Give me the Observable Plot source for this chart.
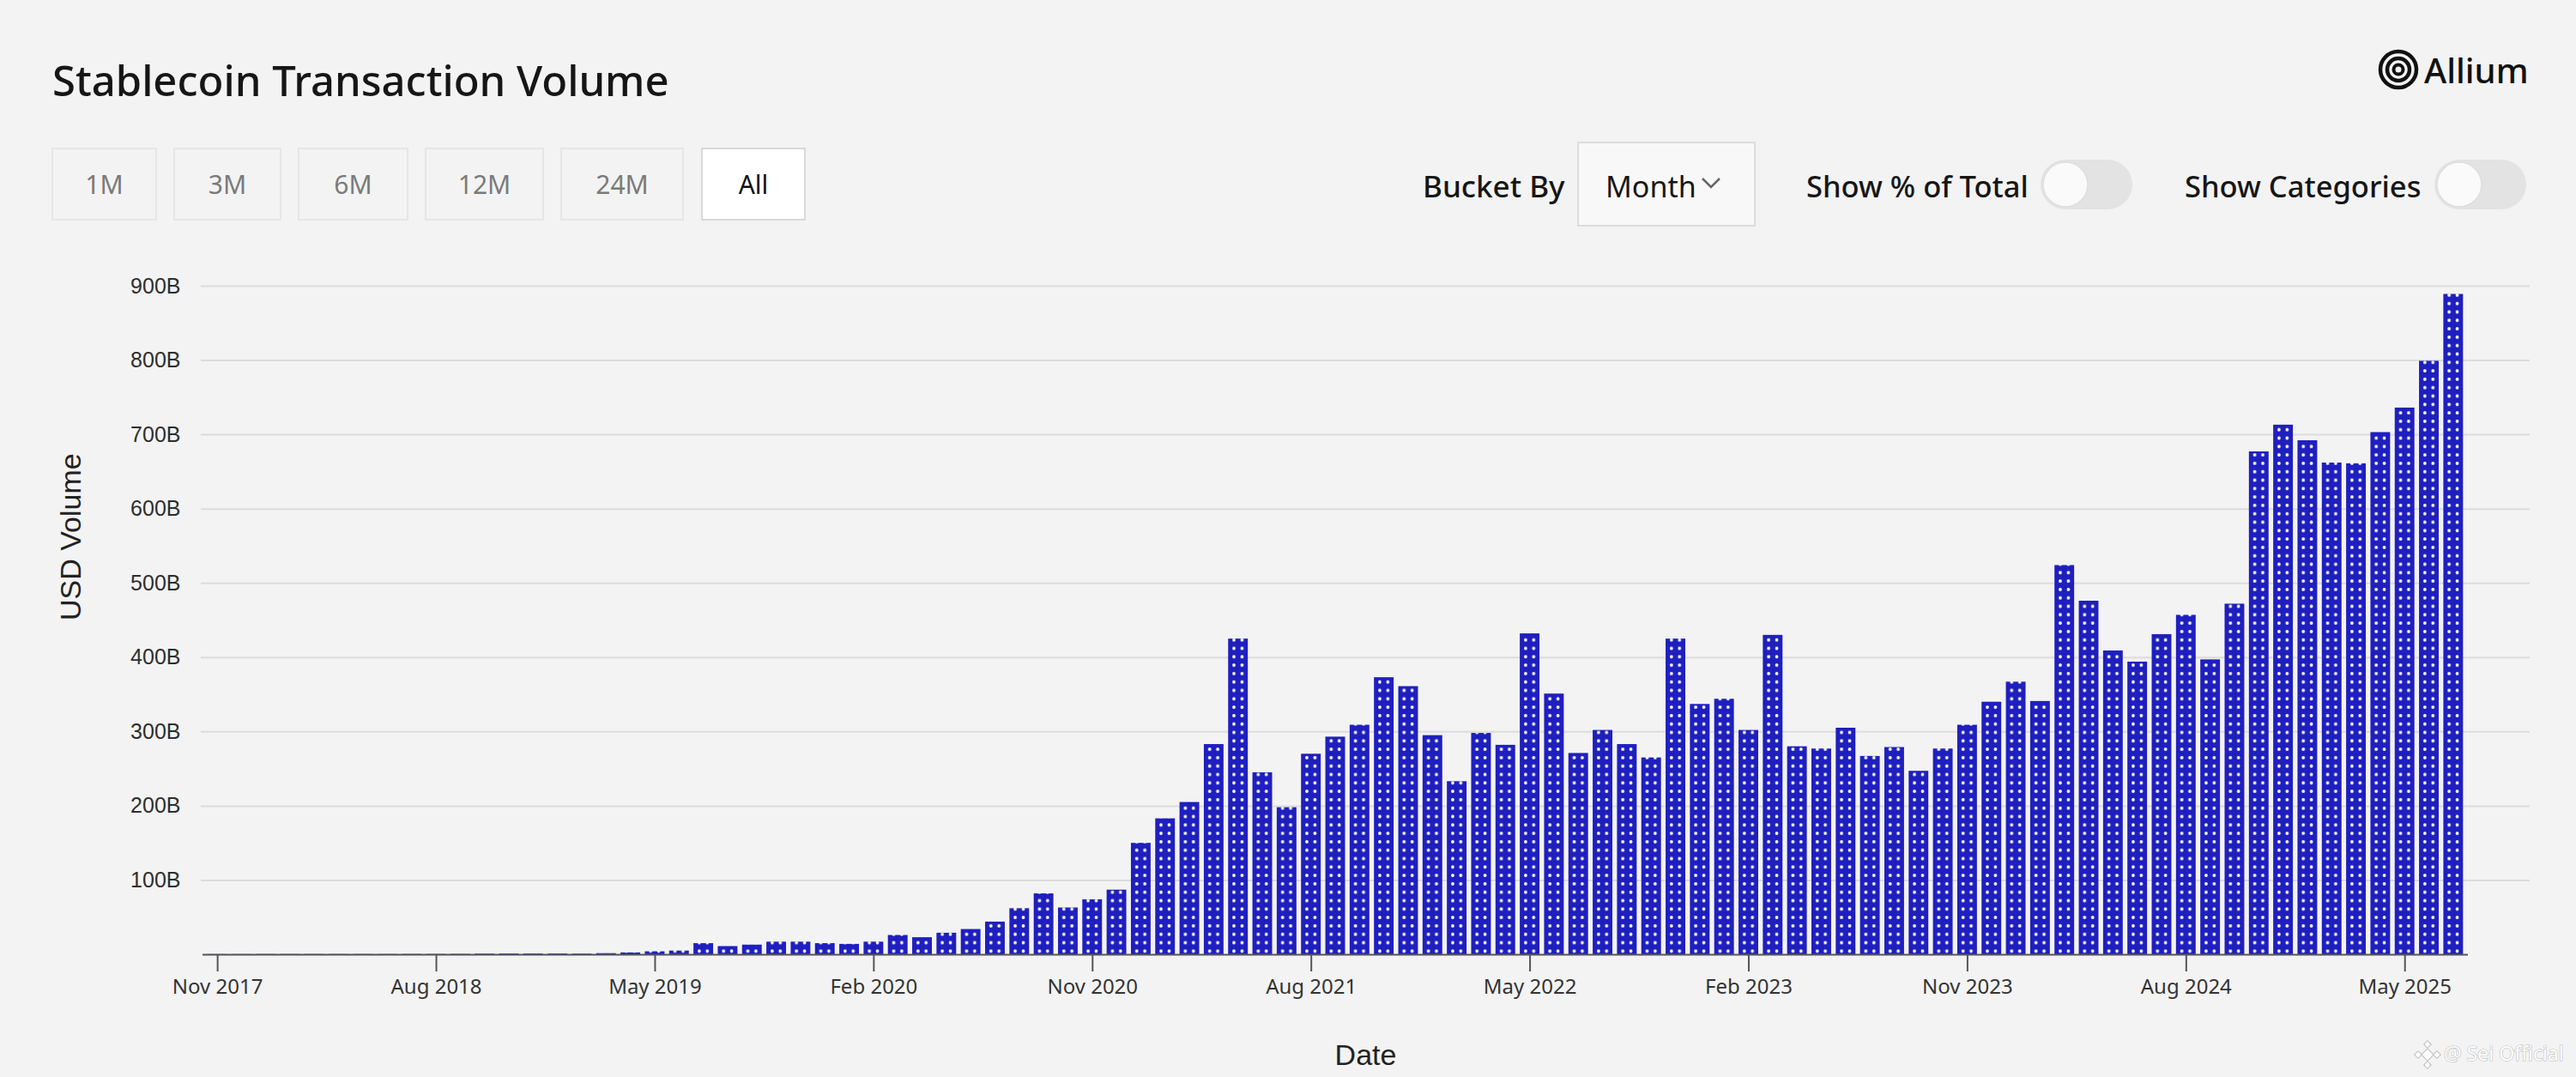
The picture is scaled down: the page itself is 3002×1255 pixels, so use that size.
<!DOCTYPE html>
<html><head><meta charset="utf-8">
<script src="https://cdn.jsdelivr.net/npm/d3@7"></script>
<script src="https://cdn.jsdelivr.net/npm/@observablehq/plot@0.6"></script>
<style>
html,body{margin:0;padding:0;background:#f3f3f3;}
#page{position:relative;width:3002px;height:1255px;overflow:hidden;background:#f3f3f3;}
#chart{position:absolute;left:0;top:290px;}
#overlay{position:absolute;left:0;top:0;pointer-events:none;}
</style></head><body>
<div id="page"><div id="chart"></div><svg id="overlay" width="3002" height="1255" xmlns="http://www.w3.org/2000/svg"></svg></div>
<script>
// ---- data ----
const firstMonth = "2017-11";
const lastMonth = "2025-07";
const months = d3.utcMonth.range(d3.utcParse("%Y-%m")(firstMonth), d3.utcMonth.offset(d3.utcParse("%Y-%m")(lastMonth), 1)).map(d3.utcFormat("%Y-%m"));
// USD volume, billions, Nov 2017 .. Jul 2025
const volumeB = [
  0.2, 0.2, 0.3, 0.3, 0.3, 0.3, 0.3, 0.3, 0.4, 0.4, 0.5, 0.8, 1.0, 1.0, 1.0, 0.8, 1.5, 2.5,
  4, 5, 15, 11, 13, 17, 17, 15, 14, 17, 26, 23, 29, 34, 44, 62, 82, 63, 74, 87,
  150, 183, 205, 283, 425, 245, 198, 270, 293, 309, 373, 361,
  295, 233, 298, 282, 432, 351, 271, 302, 283, 265, 425, 337,
  344, 302, 430, 280, 277, 305, 267, 279, 247, 277, 309, 340,
  367, 341, 524, 476, 409, 394, 431, 457, 397, 472, 677, 713,
  692, 662, 661, 703, 736, 799, 889
];
const yTicks = [100, 200, 300, 400, 500, 600, 700, 800, 900];
const xTickMonths = ["2017-11","2018-08","2019-05","2020-02","2020-11","2021-08","2022-05","2023-02","2023-11","2024-08","2025-05"];
const xTickLabels = ["Nov 2017","Aug 2018","May 2019","Feb 2020","Nov 2020","Aug 2021","May 2022","Feb 2023","Nov 2023","Aug 2024","May 2025"];
const rangeButtons = ["1M","3M","6M","12M","24M","All"];

const data = months.map((m, i) => ({month: m, value: volumeB[i]}));

// ---- chart ----
const chart = Plot.plot({
  width: 3002, height: 965,
  marginTop: 43, marginBottom: 143, marginLeft: 234, marginRight: 54,
  style: {background: "transparent", fontFamily: "'Liberation Sans', Arial, sans-serif", overflow: "visible"},
  x: {type: "band", domain: months, range: [236, 2876], paddingInner: 0.19, paddingOuter: 0.2, round: false, label: null},
  y: {domain: [0, 900], label: null},
  marks: [
    Plot.gridY(yTicks, {stroke: "#dcdcdc", strokeOpacity: 1, strokeWidth: 2}),
    Plot.barY(data, {x: "month", y: "value", fill: "url(#dots)"}),
    Plot.ruleY([0], {stroke: "#555", strokeWidth: 2, insetLeft: 2, insetRight: 72}),
    Plot.axisY({ticks: yTicks, tickSize: 0, tickPadding: 24, tickFormat: d => d + "B", fontSize: 25, fill: "#2e2e2e", label: null}),
    Plot.axisX({ticks: xTickMonths, tickFormat: m => xTickLabels[xTickMonths.indexOf(m)], tickSize: 20, tickPadding: 8,
      fontSize: 24, fontFamily: "'Noto Sans', sans-serif", fill: "#333", stroke: "#555", strokeWidth: 2, label: null}),
    Plot.text(["Date"], {text: d => d, frameAnchor: "bottom", lineAnchor: "middle", dy: 118, fontSize: 34, fill: "#222"}),
    Plot.text(["USD Volume"], {text: d => d, frameAnchor: "left", rotate: -90, dx: -151, fontSize: 34, fill: "#222"})
  ]
});

// dotted fill pattern aligned to the band scale
const xs = chart.scale("x");
const step = xs.step, bw = xs.bandwidth, x0 = xs.apply(months[0]);
const defs = document.createElementNS("http://www.w3.org/2000/svg", "defs");
defs.innerHTML = `<pattern id="dots" patternUnits="userSpaceOnUse" x="${x0}" y="0" width="${step}" height="9.8">
  <rect width="${step}" height="9.8" fill="#1f1fbf"/>
  <circle cx="${bw/2 - 4.7}" cy="4.9" r="1.9" fill="#ffffff"/>
  <circle cx="${bw/2 + 4.7}" cy="4.9" r="1.9" fill="#ffffff"/>
</pattern>`;
chart.insertBefore(defs, chart.firstChild);
document.getElementById("chart").appendChild(chart);

// ---- header / UI chrome ----
const btnBoxes = [[61,121],[203,124],[348,127],[496,137],[654,142],[818,120]];
let html = `<text x="61" y="112" font-family="'Noto Sans', sans-serif" font-weight="500" font-size="49" fill="#161616">Stablecoin Transaction Volume</text>`;
rangeButtons.forEach((b, i) => {
  const [bx, bwid] = btnBoxes[i];
  const active = b === "All";
  html += `<rect x="${bx}" y="173" width="${bwid}" height="83" fill="${active ? '#ffffff' : '#f3f3f3'}" stroke="${active ? '#d8d8d8' : '#e6e6e6'}" stroke-width="2"/>`;
  html += `<text x="${bx + bwid/2}" y="226" text-anchor="middle" font-family="'Noto Sans', sans-serif" font-size="30" fill="${active ? '#111' : '#7a7a7a'}">${b}</text>`;
});
const uiFont = `font-family="'Noto Sans', sans-serif"`;
html += `<text x="1658" y="230" ${uiFont} font-weight="500" font-size="35" fill="#161616">Bucket By</text>`;
html += `<rect x="1839" y="166" width="206" height="97" fill="#f8f8f8" stroke="#dcdcdc" stroke-width="2"/>`;
html += `<text x="1871" y="230" ${uiFont} font-size="34" fill="#161616">Month</text>`;
html += `<polyline points="1984,208 1994,218 2004,208" fill="none" stroke="#666" stroke-width="2.5"/>`;
html += `<text x="2105" y="230" ${uiFont} font-weight="500" font-size="34.5" fill="#161616">Show % of Total</text>`;
html += `<rect x="2378" y="186" width="107" height="58" rx="29" fill="#e3e3e3"/>`;
html += `<circle cx="2407" cy="215" r="26" fill="#fafafa" stroke="#dedede" stroke-width="1.5"/>`;
html += `<text x="2546" y="230" ${uiFont} font-weight="500" font-size="34.5" fill="#161616">Show Categories</text>`;
html += `<rect x="2837" y="186" width="107" height="58" rx="29" fill="#e3e3e3"/>`;
html += `<circle cx="2866" cy="215" r="26" fill="#fafafa" stroke="#dedede" stroke-width="1.5"/>`;
// Allium logo
html += `<circle cx="2795" cy="81" r="21" fill="none" stroke="#111" stroke-width="4.5"/>`;
html += `<circle cx="2795" cy="81" r="13" fill="none" stroke="#111" stroke-width="4.5"/>`;
html += `<circle cx="2795" cy="81" r="5.5" fill="none" stroke="#111" stroke-width="4"/>`;
html += `<text x="2825" y="97" ${uiFont} font-weight="500" font-size="40" fill="#111">Allium</text>`;
// watermark
html += `<g fill="#ffffff" stroke="#c4c4c4" stroke-width="1.2">
  <rect x="2824" y="1224" width="10" height="10" transform="rotate(45 2829 1229)"/>
  <rect x="2815" y="1226" width="6" height="6" transform="rotate(45 2818 1229)"/>
  <rect x="2837" y="1226" width="6" height="6" transform="rotate(45 2840 1229)"/>
  <rect x="2826" y="1214" width="6" height="6" transform="rotate(45 2829 1217)"/>
  <rect x="2826" y="1238" width="6" height="6" transform="rotate(45 2829 1241)"/>
</g>`;
html += `<text x="2848" y="1236" ${uiFont} font-size="23" fill="#ffffff" stroke="#bdbdbd" stroke-width="1.2" paint-order="stroke">@ Sei Official</text>`;
document.getElementById("overlay").innerHTML = html;
</script>
</body></html>
